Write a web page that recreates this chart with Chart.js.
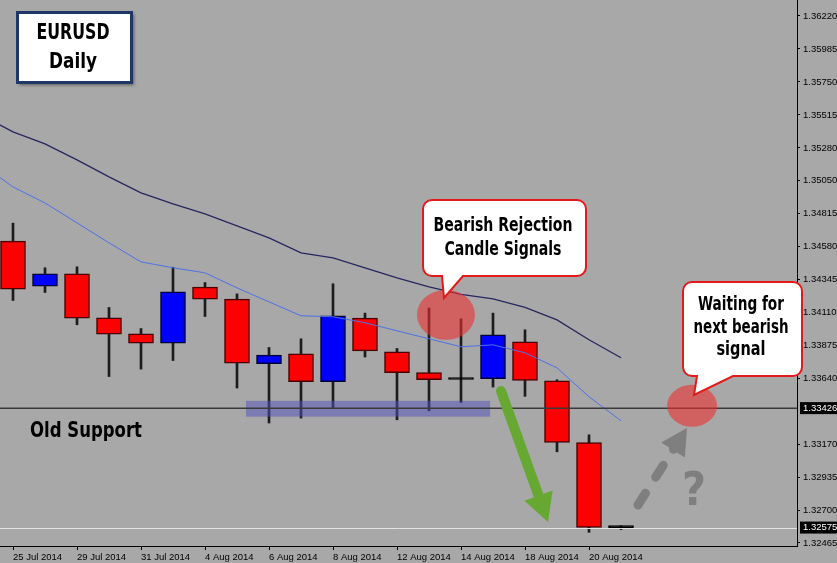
<!DOCTYPE html>
<html><head><meta charset="utf-8">
<script src="https://cdn.jsdelivr.net/npm/chart.js@4/dist/chart.umd.min.js"></script>
<style>html,body{margin:0;padding:0;background:#a8a8a8;}#wrap{width:837px;height:563px;}</style>
</head><body><div id="wrap"><canvas id="c" width="837" height="563"></canvas></div>
<script>
// ---- data ----
const dates = ['25 Jul 2014','28 Jul 2014','29 Jul 2014','30 Jul 2014','31 Jul 2014','1 Aug 2014','4 Aug 2014','5 Aug 2014','6 Aug 2014','7 Aug 2014','8 Aug 2014','11 Aug 2014','12 Aug 2014','13 Aug 2014','14 Aug 2014','15 Aug 2014','18 Aug 2014','19 Aug 2014','20 Aug 2014','21 Aug 2014'];
const open  = [1.34616,1.34295,1.34383,1.34069,1.33955,1.33889,1.34288,1.34203,1.33742,1.33813,1.33614,1.34067,1.33827,1.33680,1.33632,1.33635,1.33899,1.33621,1.33181,1.32578];
const high  = [1.34744,1.34426,1.34433,1.34143,1.33993,1.34430,1.34321,1.34240,1.33858,1.33920,1.34312,1.34103,1.33851,1.34139,1.34062,1.34103,1.33984,1.33628,1.33236,1.32588];
const low   = [1.34193,1.34250,1.34020,1.33651,1.33704,1.33765,1.34079,1.33569,1.33320,1.33355,1.33426,1.33790,1.33343,1.33407,1.33466,1.33576,1.33510,1.33115,1.32541,1.32560];
const close = [1.34274,1.34383,1.34067,1.33953,1.33889,1.34255,1.34203,1.33747,1.33804,1.33614,1.34084,1.33834,1.33678,1.33628,1.33630,1.33948,1.33623,1.33181,1.32576,1.32575];
// moving averages, first value belongs to the session before 25 Jul (24 Jul)
const maSlow = [1.35515,1.35394,1.35309,1.35195,1.35074,1.34960,1.34881,1.34810,1.34725,1.34639,1.34532,1.34497,1.34426,1.34354,1.34290,1.34237,1.34205,1.34144,1.34055,1.33913,1.33785];
const maFast = [1.35166,1.35002,1.34888,1.34746,1.34604,1.34468,1.34426,1.34390,1.34283,1.34183,1.34084,1.34077,1.34034,1.33977,1.33920,1.33863,1.33877,1.33820,1.33713,1.33507,1.33336];
const xTickIndex = [0,2,4,6,8,10,12,14,16,18];
const priceTicks = [1.36220,1.35985,1.35750,1.35515,1.35280,1.35050,1.34815,1.34580,1.34345,1.34110,1.33875,1.33640,1.33170,1.32935,1.32700,1.32465];
const supportPrice = 1.33426;
const bidPrice = 1.32575;

// ---- styling helpers ----
const isDoji = open.map((o,i)=>Math.abs(close[i]-o) < 0.00004);
const bodyFill = open.map((o,i)=> isDoji[i] ? '#000000' : (close[i] > o ? '#0000ff' : '#ff0000'));
const bodyEdge = open.map((o,i)=> isDoji[i] ? '#000000' : (close[i] > o ? '#00003a' : '#4a0000'));
const NARROW = '"Liberation Sans Narrow","Arial Narrow","DejaVu Sans Condensed","Liberation Sans",sans-serif';

function calloutPath(ctx,x0,y0,x1,y1,r,tail){
  ctx.beginPath();
  ctx.moveTo(x0+r,y0);
  ctx.lineTo(x1-r,y0); ctx.arcTo(x1,y0,x1,y0+r,r);
  ctx.lineTo(x1,y1-r); ctx.arcTo(x1,y1,x1-r,y1,r);
  if(tail){ ctx.lineTo(tail.b1,y1); ctx.lineTo(tail.tx,tail.ty); ctx.lineTo(tail.b0,y1); }
  ctx.lineTo(x0+r,y1); ctx.arcTo(x0,y1,x0,y1-r,r);
  ctx.lineTo(x0,y0+r); ctx.arcTo(x0,y0,x0+r,y0,r);
  ctx.closePath();
}
function arrow(ctx,x0,y0,x1,y1,w,headLen,headHalf,color,dash){
  const dx=x1-x0, dy=y1-y0, L=Math.hypot(dx,dy), ux=dx/L, uy=dy/L;
  const bx=x1-ux*headLen, by=y1-uy*headLen;
  ctx.save();
  ctx.strokeStyle=color; ctx.fillStyle=color; ctx.lineWidth=w; ctx.lineCap='round';
  if(dash) ctx.setLineDash(dash);
  ctx.beginPath(); ctx.moveTo(x0,y0); ctx.lineTo(bx+ux*2,by+uy*2); ctx.stroke();
  ctx.setLineDash([]);
  ctx.beginPath(); ctx.moveTo(x1,y1);
  ctx.lineTo(bx-uy*headHalf, by+ux*headHalf);
  ctx.lineTo(bx+uy*headHalf, by-ux*headHalf);
  ctx.closePath(); ctx.fill();
  ctx.restore();
}
function text(ctx,str,x,y,size,maxW,color,align){
  ctx.font='bold '+size+'px '+NARROW;
  ctx.fillStyle=color||'#000';
  ctx.textAlign=align||'center';
  ctx.textBaseline='middle';
  ctx.fillText(str,x,y,maxW);
}

const bgPlugin = {
  id:'bg',
  beforeDraw(chart){
    const c=chart.ctx; c.save(); c.fillStyle='#a8a8a8'; c.fillRect(0,0,chart.width,chart.height); c.restore();
  }
};

const overlay = {
  id:'overlay',
  afterDatasetsDraw(chart){
    const ctx=chart.ctx, xs=chart.scales.x, ys=chart.scales.y, A=chart.chartArea;
    const X=v=>xs.getPixelForValue(v), Y=v=>ys.getPixelForValue(v);
    ctx.save();
    // support zone
    ctx.fillStyle='rgba(80,80,190,0.5)';
    const zx0=X(7.28), zx1=X(14.91), zy0=Y(1.33478), zy1=Y(1.33365);
    ctx.fillRect(zx0,zy0,zx1-zx0,zy1-zy0);
    // support line
    ctx.strokeStyle='#3a3a3a'; ctx.lineWidth=1.5;
    ctx.beginPath(); ctx.moveTo(A.left,Y(supportPrice)); ctx.lineTo(A.right,Y(supportPrice)); ctx.stroke();
    // bid line
    ctx.strokeStyle='#e4e4e4'; ctx.lineWidth=1;
    ctx.beginPath(); ctx.moveTo(A.left,Math.round(Y(bidPrice))+0.5); ctx.lineTo(A.right,Math.round(Y(bidPrice))+0.5); ctx.stroke();
    // red circles
    ctx.fillStyle='rgba(240,45,45,0.58)';
    ctx.beginPath(); ctx.ellipse(X(13.53),Y(1.34091),29,25,0,0,Math.PI*2); ctx.fill();
    ctx.beginPath(); ctx.ellipse(X(21.22),Y(1.33443),25,21,0,0,Math.PI*2); ctx.fill();
    // arrows
    arrow(ctx,501,391,548,522,10,28,15,'#66a832',null);
    arrow(ctx,638,505,687,428,9,26,14,'#7f7f7f',[14,19]);
    text(ctx,'?',694,493,46,26,'#7f7f7f');
    // callout: bearish rejection
    ctx.save();
    calloutPath(ctx,423,200,586,276,9,{b0:442,b1:463,tx:444,ty:298});
    ctx.fillStyle='#ffffff'; ctx.fill();
    ctx.strokeStyle='#e41a1a'; ctx.lineWidth=2; ctx.stroke();
    ctx.restore();
    text(ctx,'Bearish Rejection',503,226,19,139);
    text(ctx,'Candle Signals',503,250,19,117);
    // callout: waiting
    ctx.save();
    calloutPath(ctx,683,282,802,376,9,{b0:697,b1:733,tx:694,ty:395});
    ctx.fillStyle='#ffffff'; ctx.fill();
    ctx.strokeStyle='#e41a1a'; ctx.lineWidth=2; ctx.stroke();
    ctx.restore();
    text(ctx,'Waiting for',741,305,19,86);
    text(ctx,'next bearish',741,328,19,95);
    text(ctx,'signal',741,350,19,49);
    // title box
    ctx.save();
    ctx.shadowColor='rgba(0,0,0,0.45)'; ctx.shadowOffsetX=2; ctx.shadowOffsetY=2; ctx.shadowBlur=3;
    ctx.fillStyle='#ffffff'; ctx.fillRect(17,12,115,71);
    ctx.restore();
    ctx.strokeStyle='#1f3766'; ctx.lineWidth=3; ctx.strokeRect(17.5,12.5,114,70);
    text(ctx,'EURUSD',73,33,22,73);
    text(ctx,'Daily',73,62,22,48);
    // old support label
    text(ctx,'Old Support',30,432,21,112,'#000','left');
    // axis price highlights
    [supportPrice,bidPrice].forEach(p=>{
      const y=Y(p);
      ctx.fillStyle='#000'; ctx.fillRect(A.right+3,y-6,chart.width-A.right-3,12);
      ctx.fillStyle='#fff'; ctx.font='9.5px "Liberation Sans",sans-serif'; ctx.textAlign='left'; ctx.textBaseline='middle';
      ctx.fillText(p.toFixed(5),A.right+6,y);
    });
    ctx.restore();
  }
};

const tickFont = {family:'"Liberation Sans",sans-serif', size:9.5};
new Chart(document.getElementById('c'),{
  type:'bar',
  data:{
    datasets:[
      {type:'line', data:maSlow.map((v,i)=>({x:i-1,y:v})), borderColor:'#27275f', borderWidth:1.3, pointRadius:0, tension:0, order:0},
      {type:'line', data:maFast.map((v,i)=>({x:i-1,y:v})), borderColor:'#4d72e6', borderWidth:1, pointRadius:0, tension:0, order:0},
      {type:'bar', data:open.map((o,i)=>({x:i,y:[o,close[i]]})), backgroundColor:bodyFill, borderColor:bodyEdge, borderWidth:1.5, borderSkipped:false, barThickness:25, grouped:false, minBarLength:2, order:1},
      {type:'bar', data:low.map((l,i)=>({x:i,y:[l,high[i]]})), backgroundColor:'#1c1c1c', barThickness:2, grouped:false, order:2}
    ]
  },
  options:{
    responsive:false, animation:false, events:[],
    layout:{padding:0},
    plugins:{legend:{display:false}, tooltip:{enabled:false}},
    scales:{
      x:{type:'linear', position:'bottom', offset:false, min:-13/32, max:(797-13)/32,
        afterBuildTicks:s=>{ s.ticks = xTickIndex.map(v=>({value:v})); },
        afterFit:s=>{ s.height=17; s.paddingLeft=0; s.paddingRight=0; },
        ticks:{callback:v=>dates[v]||'', align:'start', maxRotation:0, minRotation:0, autoSkip:false, font:tickFont, color:'#000', padding:2},
        grid:{display:true, offset:false, drawOnChartArea:false, drawTicks:true, tickLength:4, color:'#000'},
        border:{display:true, color:'#000', width:1}
      },
      y:{type:'linear', position:'right', min:1.36334, max:1.36334, 
        afterDataLimits:s=>{ s.min=1.3244362; s.max=1.3633400; },
        afterBuildTicks:s=>{ s.ticks = priceTicks.map(v=>({value:v})); },
        afterFit:s=>{ s.width=40; s.paddingTop=0; s.paddingBottom=0; },
        ticks:{callback:v=>Number(v).toFixed(5), font:tickFont, color:'#000', padding:3, autoSkip:false},
        grid:{display:true, drawOnChartArea:false, drawTicks:true, tickLength:3, color:'#000'},
        border:{display:true, color:'#000', width:1}
      }
    }
  },
  plugins:[bgPlugin, overlay]
});
</script></body></html>
